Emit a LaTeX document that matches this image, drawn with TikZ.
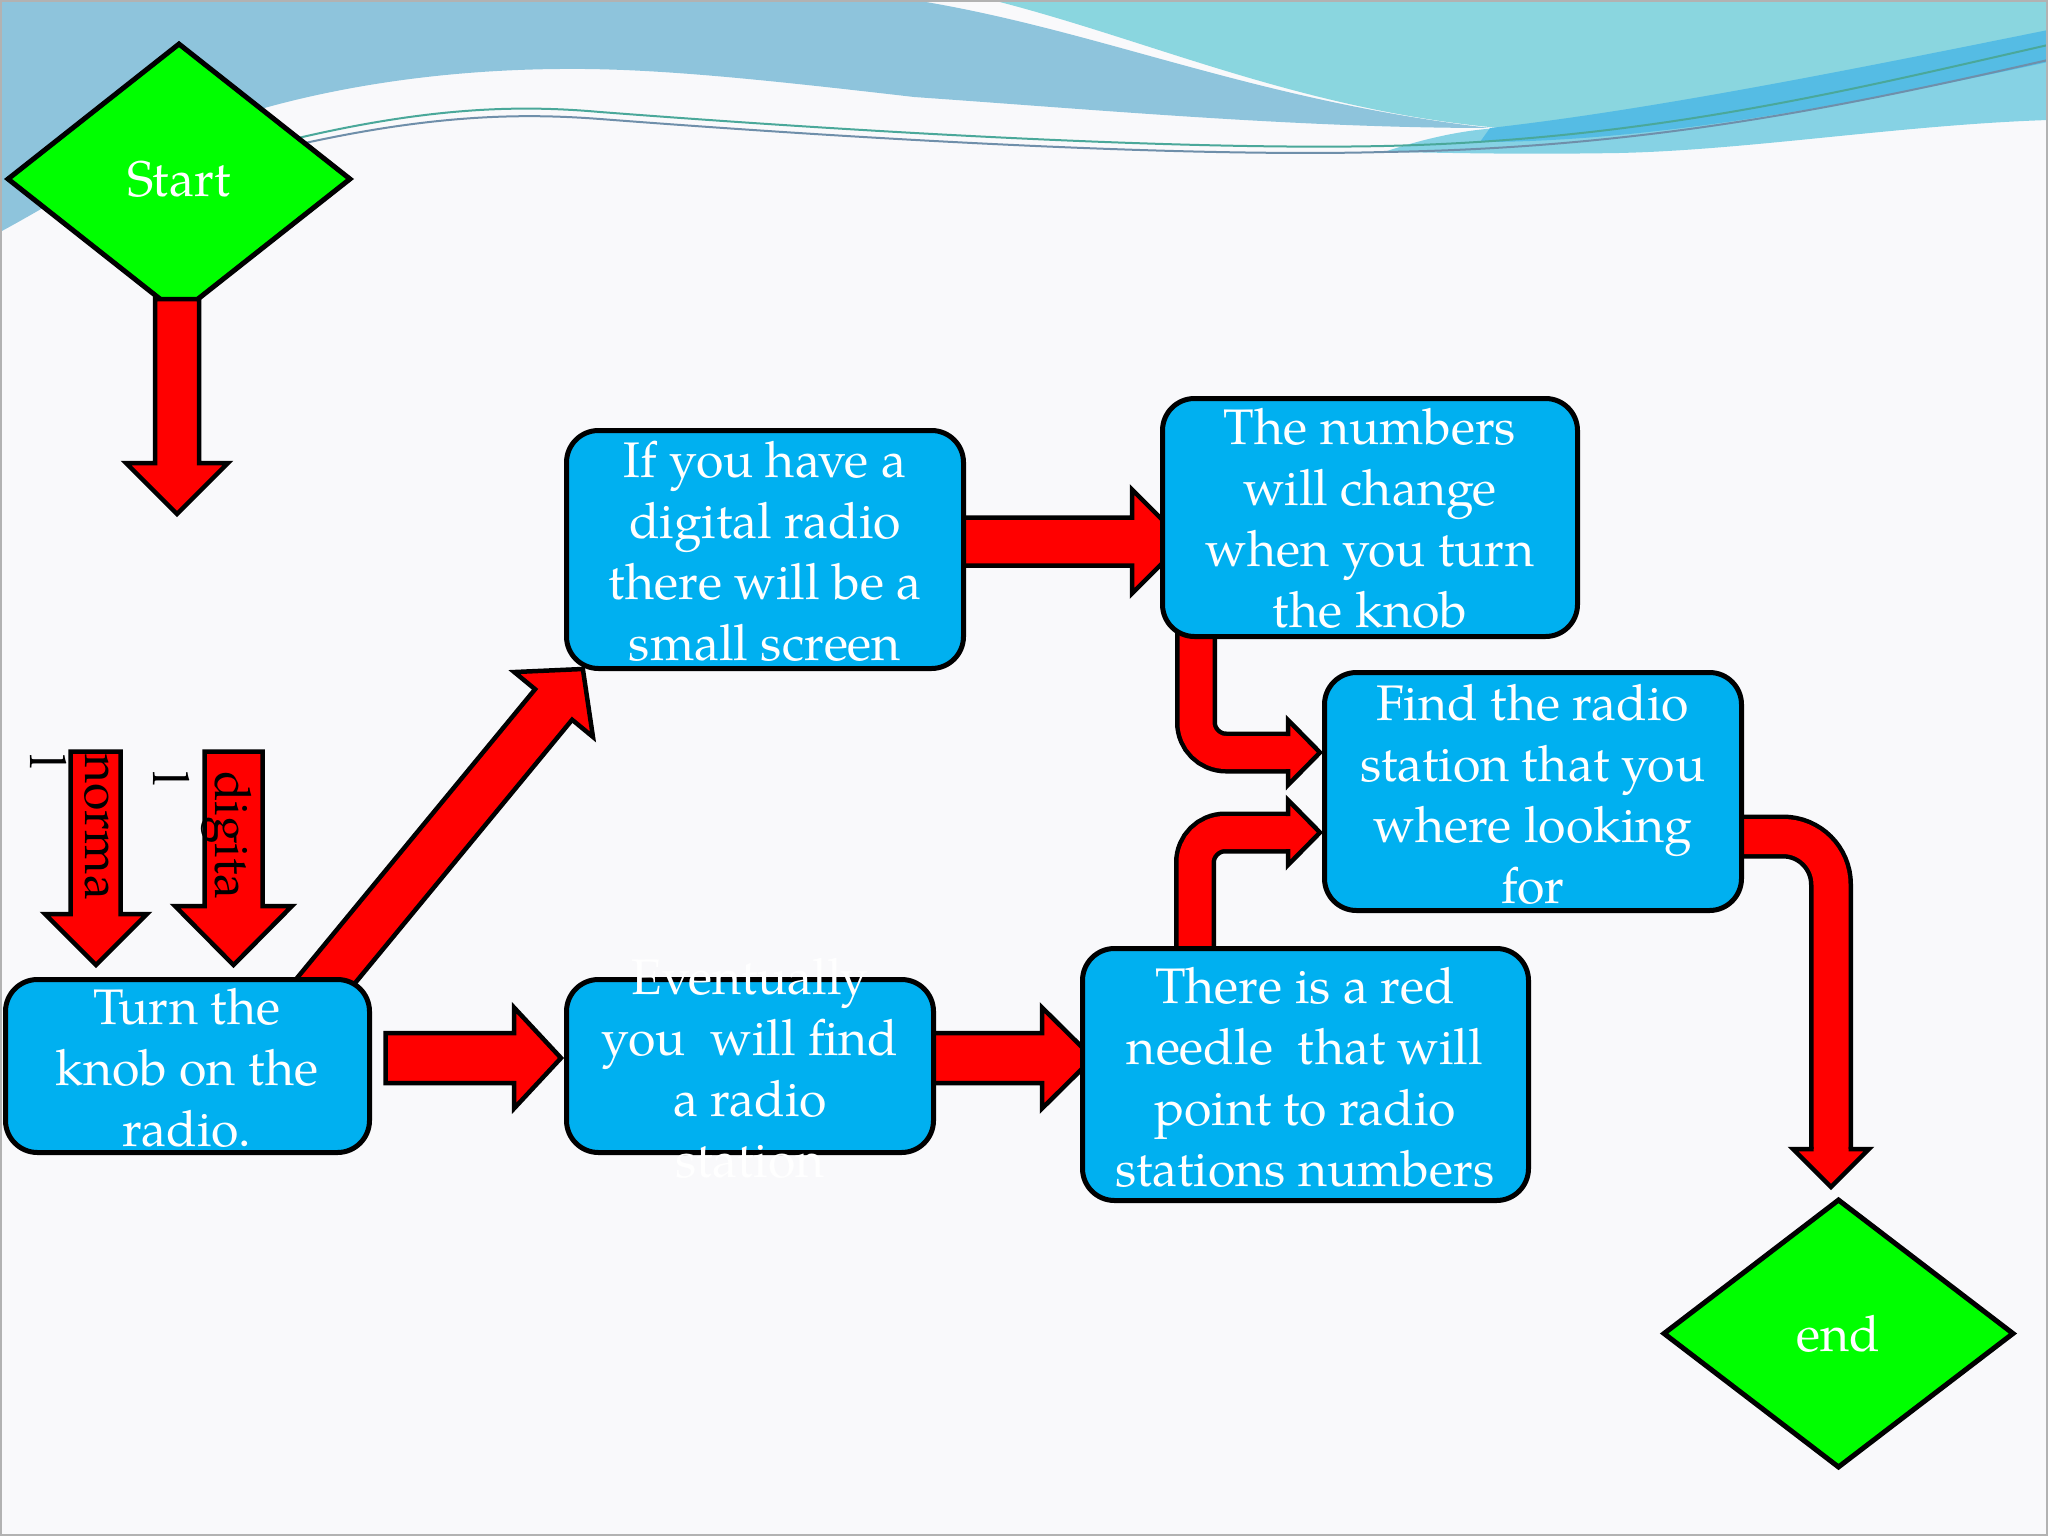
\documentclass[tikz,border=0pt]{standalone}
\usepackage{fontspec}
\setmainfont{texgyrepagella}[Extension=.otf,UprightFont=*-regular]
\usetikzlibrary{shapes.geometric}
\definecolor{bgc}{HTML}{F9F9FB}
\definecolor{steel}{HTML}{8EC4DC}
\definecolor{turq}{HTML}{8AD6DF}
\definecolor{midblue}{HTML}{55BCE4}
\definecolor{lcyan}{HTML}{86D2E4}
\definecolor{boxblue}{HTML}{00B0F0}
\definecolor{diagreen}{HTML}{00FF00}
\definecolor{lineteal}{HTML}{4AA89A}
\definecolor{lineslate}{HTML}{6F8FAA}
\begin{document}
\begin{tikzpicture}[x=1pt,y=-1pt,
  box/.style={draw=black, line width=5pt, fill=boxblue, rounded corners=32pt, inner sep=0pt},
  txt/.style={text=white, align=center, font=\fontsize{50}{61}\selectfont, inner sep=0pt},
  dia/.style={diamond, draw=black, line width=5pt, fill=diagreen, inner sep=0pt, text=white, font=\fontsize{50}{61}\selectfont},
  blk/.style={fill=red, draw=black, line width=4.5pt, line join=miter},
  bent/.style={draw=black, line width=4.5pt, double=red, double distance=33pt, rounded corners=30pt},
  headline/.style={draw=black, line width=4.5pt, line join=miter},
  rot/.style={rotate=-90, anchor=base west, inner sep=0pt, text=black, font=\fontsize{50}{61}\selectfont}
]
\useasboundingbox (0,0) rectangle (2048,1536);
\fill[bgc] (0,0) rectangle (2048,1536);
% banner
\fill[steel] (0,0) -- (914,0) .. controls (1100,30) and (1250,100) .. (1490,128)
  .. controls (1300,128) and (1100,110) .. (914,97)
  .. controls (750,78) and (650,68) .. (560,69)
  .. controls (430,70) and (330,90) .. (268,107)
  .. controls (150,140) and (60,200) .. (0,232) -- cycle;
\fill[turq] (992,0) .. controls (1150,40) and (1300,110) .. (1500,128)
  .. controls (1650,110) and (1850,70) .. (2048,33) -- (2048,0) -- cycle;
\fill[lcyan] (1500,128) .. controls (1650,110) and (1850,70) .. (2048,33)
  -- (2048,120) .. controls (1900,125) and (1750,150) .. (1619,153)
  .. controls (1500,155) and (1420,152) .. (1384,152)
  .. controls (1420,140) and (1460,130) .. (1500,128) -- cycle;
\fill[midblue] (1490,128) .. controls (1650,110) and (1850,70) .. (2048,30)
  -- (2048,62) .. controls (1850,105) and (1650,142) .. (1480,142) -- cycle;
\draw[lineteal, line width=2pt] (250,150) .. controls (420,105) and (520,105) .. (600,112)
  .. controls (900,135) and (1200,150) .. (1384,146) .. controls (1650,140) and (1850,90) .. (2048,45);
\draw[lineslate, line width=2pt] (250,156) .. controls (420,113) and (520,113) .. (600,119)
  .. controls (900,142) and (1200,157) .. (1384,152) .. controls (1650,148) and (1850,105) .. (2048,60);
% start diamond
\node[dia, minimum width=344pt, minimum height=272pt] (start) at (179,179) {Start};
% block arrows
\draw[blk] (155,299) -- (199,299) -- (199,463) -- (228,463) -- (177,514) -- (126,463) -- (155,463) -- cycle;
\draw[blk] (70.5,751.5) -- (120.5,751.5) -- (120.5,914) -- (147,914) -- (96,965) -- (45,914) -- (70.5,914) -- cycle;
\draw[blk] (204.5,751.5) -- (262.5,751.5) -- (262.5,906) -- (292,906) -- (233.5,965) -- (175,906) -- (204.5,906) -- cycle;
\begin{scope}[shift={(310,1000)}, rotate=50.5]
\draw[blk] (0,24) -- (383,24) -- (383,51) -- (429,0) -- (383,-51) -- (383,-24) -- (0,-24) -- cycle;
\end{scope}
\draw[blk] (955,517.5) -- (1132,517.5) -- (1132,489.5) -- (1184,541.5) -- (1132,593.5) -- (1132,565.5) -- (955,565.5) -- cycle;
\draw[blk] (385.5,1033) -- (514,1033) -- (514,1007.5) -- (561,1058) -- (514,1108.5) -- (514,1083) -- (385.5,1083) -- cycle;
\draw[blk] (930,1033) -- (1042,1033) -- (1042,1007.5) -- (1093,1058) -- (1042,1108.5) -- (1042,1083) -- (930,1083) -- cycle;
% bent arrows
\draw[bent] (1196,630) -- (1196,752.5) -- (1290,752.5);
\fill[red] (1288,720) -- (1320,752.5) -- (1288,785) -- cycle;
\draw[headline] (1288,736) -- (1288,720) -- (1320,752.5) -- (1288,785) -- (1288,769);
\draw[bent] (1195,955) -- (1195,832.5) -- (1290,832.5);
\fill[red] (1288,800) -- (1320,832.5) -- (1288,865) -- cycle;
\draw[headline] (1288,816) -- (1288,800) -- (1320,832.5) -- (1288,865) -- (1288,849);
\draw[bent, double distance=35pt, rounded corners=48pt] (1735,836.5) -- (1831,836.5) -- (1831,1151);
\fill[red] (1793,1149) -- (1869,1149) -- (1831,1187) -- cycle;
\draw[headline] (1813.5,1149) -- (1793,1149) -- (1831,1187) -- (1869,1149) -- (1848.5,1149);
% boxes
\node[box, minimum width=364pt, minimum height=173pt] (turn) at (187.5,1066) {};
\node[box, minimum width=397pt, minimum height=238pt] (digital) at (765,549.5) {};
\node[box, minimum width=415pt, minimum height=238pt] (numbers) at (1370,517.5) {};
\node[box, minimum width=417pt, minimum height=238pt] (find) at (1533,791.5) {};
\node[box, minimum width=367pt, minimum height=173pt] (event) at (750,1066) {};
\node[box, minimum width=446pt, minimum height=252pt] (needle) at (1305.5,1074.5) {};
% texts
\node[txt] (tturn) at (187,1068) {Turn the\\knob on the\\radio.};
\node[txt] (tdig) at (765,551) {If you have a\\digital radio\\there will be a\\small screen};
\node[txt] (tnum) at (1370,518) {The numbers\\will change\\when you turn\\the knob};
\node[txt] (tfind) at (1533,794) {Find the radio\\station that you\\where looking\\for};
\node[txt] (tev) at (750,1068) {Eventually\\you\ \ will find\\a radio\\station};
\node[txt] (tneed) at (1305,1077) {There is a red\\needle\ \ that will\\point to radio\\stations numbers};
% rotated labels
\node[rot] (n1) at (85,754) {norma};
\node[rot] (n2) at (30,754) {l};
\node[rot] (d1) at (215,771) {digita};
\node[rot] (d2) at (153,771) {l};
% end diamond
\node[dia, minimum width=351pt, minimum height=269pt] (stop) at (1838.5,1333.5) {end};
% frame
\draw[gray!60, line width=2pt] (1,1) rectangle (2047,1535);
\end{tikzpicture}
\end{document}
